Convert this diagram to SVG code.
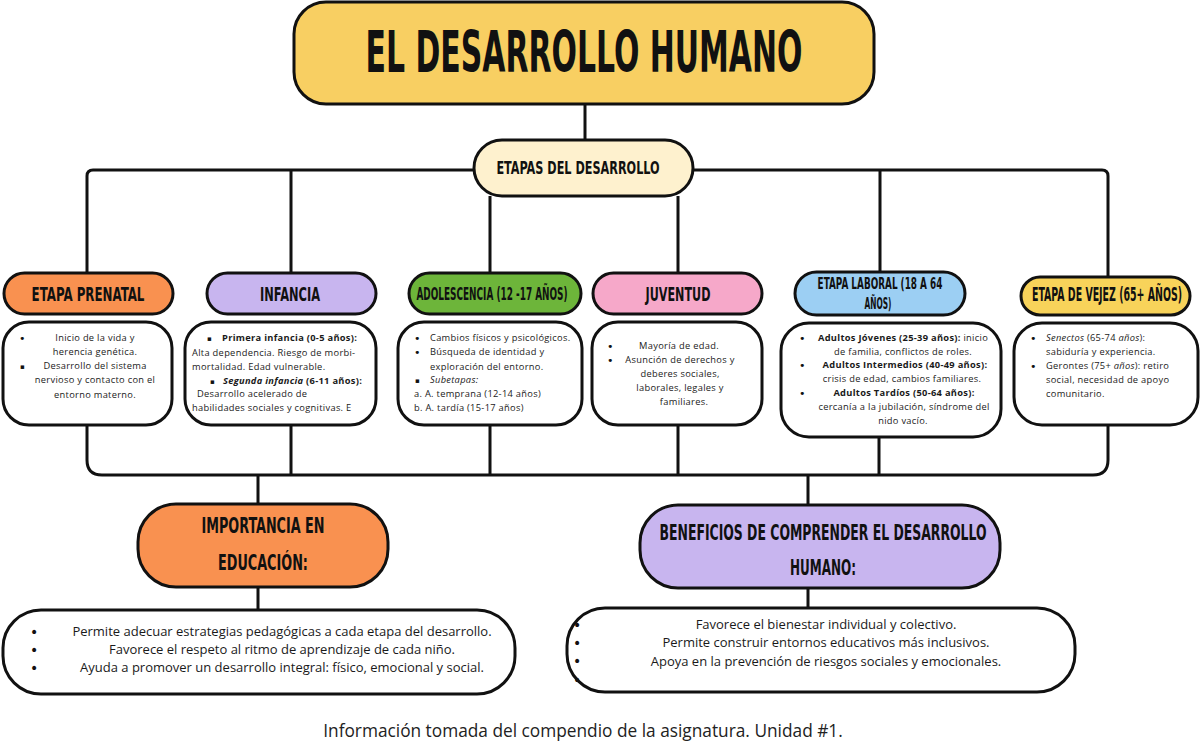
<svg xmlns="http://www.w3.org/2000/svg" width="1200" height="747" viewBox="0 0 1200 747">
<style>
.box{stroke:#111;stroke-width:3}
.line{fill:none;stroke:#111;stroke-width:3}
.hd{font-family:"DejaVu Sans Condensed","DejaVu Sans",sans-serif;font-weight:bold;fill:#111;text-anchor:middle}
.t{font-family:"Open Sans","Noto Sans",sans-serif;font-size:9.3px;letter-spacing:.3px;fill:#1a1a1a}
.bu{font-family:"DejaVu Sans",sans-serif;font-size:11px;fill:#111}
.sq{font-family:"DejaVu Sans",sans-serif;font-size:7px;fill:#111}
.bb{font-family:"DejaVu Sans",sans-serif;font-size:14px;fill:#111}
.c{text-anchor:middle}
.b{font-weight:bold}
.i{font-style:italic}
.big{font-family:"Open Sans","Noto Sans",sans-serif;font-size:13px;fill:#1a1a1a}
</style>
<rect width="1200" height="747" fill="#fff"/>
<g id="connectors">
<path class="line" d="M585,104 V140"/>
<path class="line" d="M87,273 V176 Q87,170 93,170 H1102 Q1108,170 1108,176 V277"/>
<path class="line" d="M291,170 V273 M880,170 V273 M490,196 V273 M678,196 V273"/>
<path class="line" d="M87,425 V460 Q87,475 102,475 H1093 Q1108,475 1108,460 V425"/>
<path class="line" d="M291,425 V475 M490,425 V475 M678,425 V475 M879,437 V475"/>
<path class="line" d="M258,475 V504 M808,475 V505 M258,587 V610 M808,588 V608"/>
</g>
<g id="title">
<rect class="box" x="294" y="2" width="580" height="102" rx="32" fill="#F8CF62"/>
<text class="hd" transform="translate(584,72) scale(0.7,1)" font-size="57" textLength="624" lengthAdjust="spacingAndGlyphs">EL DESARROLLO HUMANO</text>
</g>
<g id="etapas">
<rect class="box" x="474" y="140" width="219" height="56" rx="28" fill="#FEF1CE"/>
<text class="hd" transform="translate(578,174) scale(0.65,1)" font-size="17" textLength="251" lengthAdjust="spacingAndGlyphs">ETAPAS DEL DESARROLLO</text>
</g>
<g id="prenatal">
<rect class="box" x="4" y="273" width="169" height="41" rx="20.5" fill="#F99150"/>
<text class="hd" transform="translate(88,301) scale(0.6,1)" font-size="20" textLength="188" lengthAdjust="spacingAndGlyphs">ETAPA PRENATAL</text>
<rect class="box" x="3" y="322" width="169" height="103" rx="26" fill="#fff"/>
<text class="bu" x="19" y="342">•</text>
<text class="sq" x="20" y="369">▪</text>
<text class="t c" x="95" y="341">Inicio de la vida y</text>
<text class="t c" x="95" y="355">herencia genética.</text>
<text class="t c" x="95" y="369">Desarrollo del sistema</text>
<text class="t c" x="95" y="383">nervioso y contacto con el</text>
<text class="t c" x="95" y="398">entorno materno.</text>
</g>
<g id="infancia">
<rect class="box" x="207" y="273" width="169" height="41" rx="20.5" fill="#C8B5EF"/>
<text class="hd" transform="translate(290,301) scale(0.6,1)" font-size="20" textLength="100" lengthAdjust="spacingAndGlyphs">INFANCIA</text>
<rect class="box" x="185" y="322" width="191" height="103" rx="26" fill="#fff"/>
<text class="sq" x="207" y="341">▪</text>
<text class="t b" x="222" y="341">Primera infancia (0-5 años):</text>
<text class="t" x="192" y="356">Alta dependencia. Riesgo de morbi-</text>
<text class="t" x="192" y="370">mortalidad. Edad vulnerable.</text>
<text class="sq" x="210" y="384">▪</text>
<text class="t b" x="223" y="384"><tspan class="i">Segunda infancia</tspan> (6-11 años):</text>
<text class="t" x="197" y="397">Desarrollo acelerado de</text>
<text class="t" x="192" y="411">habilidades sociales y cognitivas. E</text>
</g>
<g id="adolescencia">
<rect class="box" x="409" y="273" width="172" height="41" rx="20.5" fill="#6DB53A"/>
<text class="hd" transform="translate(492,300) scale(0.6,1)" font-size="18" textLength="252" lengthAdjust="spacingAndGlyphs">ADOLESCENCIA (12 -17 AÑOS)</text>
<rect class="box" x="398" y="322" width="184" height="103" rx="26" fill="#fff"/>
<text class="bu" x="414" y="342">•</text>
<text class="t" x="430" y="341">Cambios físicos y psicológicos.</text>
<text class="bu" x="414" y="356">•</text>
<text class="t" x="430" y="355">Búsqueda de identidad y</text>
<text class="t" x="430" y="370">exploración del entorno.</text>
<text class="sq" x="415" y="383">▪</text>
<text class="t i" x="430" y="383">Subetapas:</text>
<text class="t" x="414" y="397">a. A. temprana (12-14 años)</text>
<text class="t" x="414" y="411">b. A. tardía (15-17 años)</text>
</g>
<g id="juventud">
<rect class="box" x="593" y="273" width="169" height="41" rx="20.5" fill="#F6A8C9"/>
<text class="hd" transform="translate(678,301) scale(0.6,1)" font-size="20" textLength="108" lengthAdjust="spacingAndGlyphs">JUVENTUD</text>
<rect class="box" x="592" y="322" width="170" height="103" rx="26" fill="#fff"/>
<text class="bu" x="607" y="350">•</text>
<text class="bu" x="607" y="364">•</text>
<text class="t c" x="679" y="349">Mayoría de edad.</text>
<text class="t c" x="680" y="363">Asunción de derechos y</text>
<text class="t c" x="680" y="377">deberes sociales,</text>
<text class="t c" x="680" y="391">laborales, legales y</text>
<text class="t c" x="684" y="405">familiares.</text>
</g>
<g id="laboral">
<rect class="box" x="795" y="272" width="170" height="43" rx="21.5" fill="#9CCFF3"/>
<text class="hd" transform="translate(880,289) scale(0.6,1)" font-size="16" textLength="208" lengthAdjust="spacingAndGlyphs">ETAPA LABORAL (18 A 64</text>
<text class="hd" transform="translate(878,309) scale(0.6,1)" font-size="16" textLength="45" lengthAdjust="spacingAndGlyphs">AÑOS)</text>
<rect class="box" x="781" y="323" width="220" height="114" rx="28" fill="#fff"/>
<text class="bu" x="799" y="342">•</text>
<text class="bu" x="799" y="369">•</text>
<text class="bu" x="799" y="397">•</text>
<text class="t c" x="903" y="341"><tspan class="b">Adultos Jóvenes (25-39 años):</tspan> inicio</text>
<text class="t c" x="903" y="355">de familia, conflictos de roles.</text>
<text class="t c b" x="905" y="368">Adultos Intermedios (40-49 años):</text>
<text class="t c" x="902" y="382">crisis de edad, cambios familiares.</text>
<text class="t c b" x="904" y="396">Adultos Tardíos (50-64 años):</text>
<text class="t c" x="904" y="410">cercanía a la jubilación, síndrome del</text>
<text class="t c" x="903" y="424">nido vacío.</text>
</g>
<g id="vejez">
<rect class="box" x="1021" y="277" width="169" height="38" rx="19" fill="#F8D35A"/>
<text class="hd" transform="translate(1107,301) scale(0.6,1)" font-size="19" textLength="250" lengthAdjust="spacingAndGlyphs">ETAPA DE VEJEZ (65+ AÑOS)</text>
<rect class="box" x="1014" y="323" width="184" height="102" rx="28" fill="#fff"/>
<text class="bu" x="1030" y="342">•</text>
<text class="bu" x="1030" y="370">•</text>
<text class="t" x="1046" y="341"><tspan class="i">Senectos</tspan> (65-74 <tspan class="i">años</tspan>):</text>
<text class="t" x="1046" y="355">sabiduría y experiencia.</text>
<text class="t" x="1046" y="369">Gerontes (75+ <tspan class="i">años</tspan>): retiro</text>
<text class="t" x="1046" y="383">social, necesidad de apoyo</text>
<text class="t" x="1046" y="397">comunitario.</text>
</g>
<g id="importancia">
<rect class="box" x="138" y="504" width="250" height="83" rx="38" fill="#F99150"/>
<text class="hd" transform="translate(263,533) scale(0.6,1)" font-size="22" textLength="205" lengthAdjust="spacingAndGlyphs">IMPORTANCIA EN</text>
<text class="hd" transform="translate(263,570) scale(0.6,1)" font-size="22" textLength="150" lengthAdjust="spacingAndGlyphs">EDUCACIÓN:</text>
</g>
<g id="beneficios">
<rect class="box" x="640" y="505" width="360" height="83" rx="38" fill="#C8B5EF"/>
<text class="hd" transform="translate(823,540) scale(0.6,1)" font-size="22" textLength="545" lengthAdjust="spacingAndGlyphs">BENEFICIOS DE COMPRENDER EL DESARROLLO</text>
<text class="hd" transform="translate(823,575) scale(0.6,1)" font-size="22" textLength="110" lengthAdjust="spacingAndGlyphs">HUMANO:</text>
</g>
<g id="importancia-lista">
<rect class="box" x="3" y="610" width="512" height="84" rx="38" fill="#fff"/>
<text class="bb" x="30" y="637">•</text>
<text class="bb" x="30" y="655">•</text>
<text class="bb" x="30" y="673">•</text>
<text class="big c" x="282" y="636">Permite adecuar estrategias pedagógicas a cada etapa del desarrollo.</text>
<text class="big c" x="282" y="654">Favorece el respeto al ritmo de aprendizaje de cada niño.</text>
<text class="big c" x="282" y="672">Ayuda a promover un desarrollo integral: físico, emocional y social.</text>
</g>
<g id="beneficios-lista">
<rect class="box" x="567" y="608" width="508" height="84" rx="38" fill="#fff"/>
<text class="bb" x="573" y="630">•</text>
<text class="bb" x="573" y="648">•</text>
<text class="bb" x="573" y="666">•</text>
<text class="bb" x="573" y="685">•</text>
<text class="big c" x="826" y="629">Favorece el bienestar individual y colectivo.</text>
<text class="big c" x="826" y="647">Permite construir entornos educativos más inclusivos.</text>
<text class="big c" x="826" y="666">Apoya en la prevención de riesgos sociales y emocionales.</text>
</g>
<text x="583" y="737" font-family="Open Sans, Noto Sans, sans-serif" font-size="17.3" fill="#222" text-anchor="middle">Información tomada del compendio de la asignatura. Unidad #1.</text>
</svg>
